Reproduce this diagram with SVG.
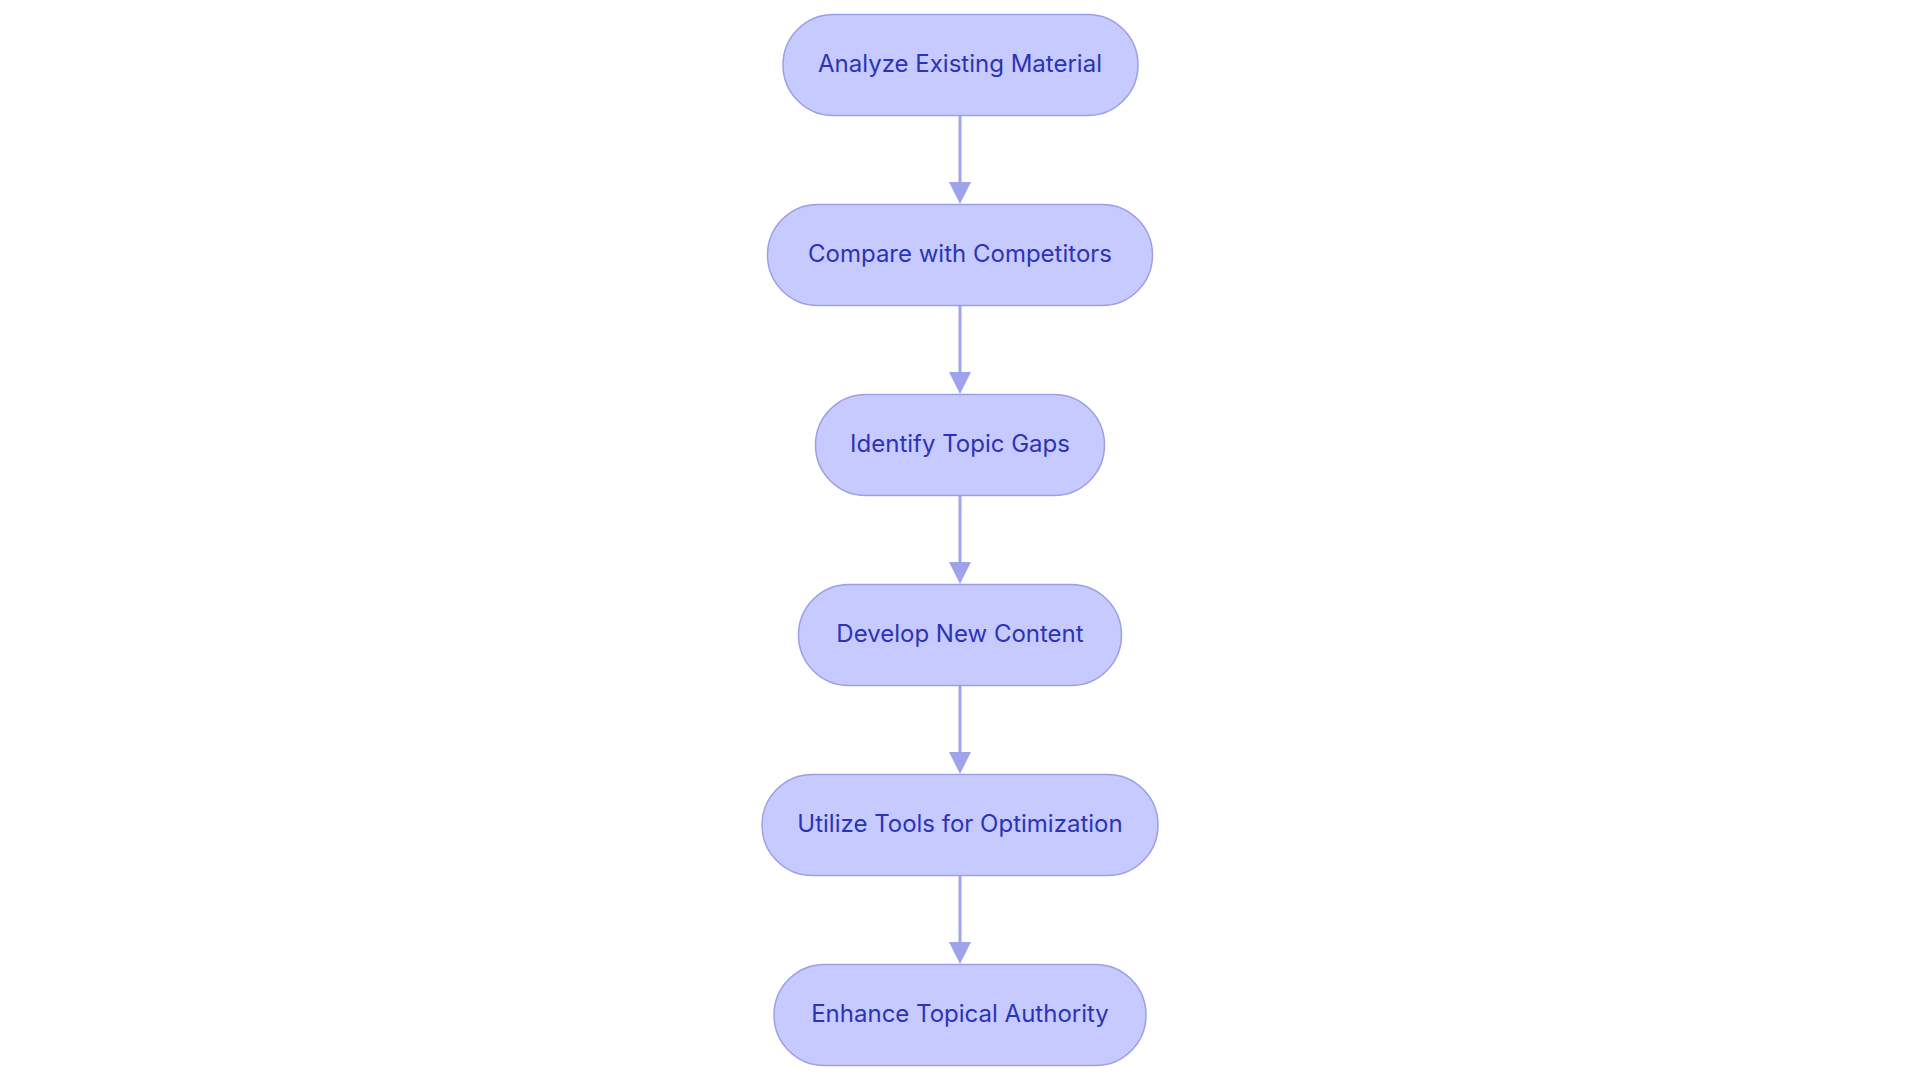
<svg xmlns="http://www.w3.org/2000/svg" width="1920" height="1083" viewBox="0 0 1920 1083">
<style>
.node rect{fill:#c7cafe;stroke:#9a9fe8;stroke-width:1.5}
.node text{font-family:Inter,"Noto Sans",sans-serif;font-size:24px;font-weight:400;fill:#2b33b8;text-anchor:middle;dominant-baseline:central}
.edge{stroke:#9ea3eb;stroke-width:3;fill:none}
.head{fill:#9ea3eb}
</style>
<rect width="1920" height="1083" fill="#ffffff"/>
<g id="connectors">
<line class="edge" x1="960" y1="115" x2="960" y2="186"/><polygon class="head" points="949,182 971,182 960,204"/>
<line class="edge" x1="960" y1="305" x2="960" y2="376"/><polygon class="head" points="949,372 971,372 960,394"/>
<line class="edge" x1="960" y1="495" x2="960" y2="566"/><polygon class="head" points="949,562 971,562 960,584"/>
<line class="edge" x1="960" y1="685" x2="960" y2="756"/><polygon class="head" points="949,752 971,752 960,774"/>
<line class="edge" x1="960" y1="875" x2="960" y2="946"/><polygon class="head" points="949,942 971,942 960,964"/>
</g>
<g id="n1" class="node"><rect x="783" y="14.5" width="355" height="101" rx="50.5"/><text x="960" y="63">Analyze Existing Material</text></g>
<g id="n2" class="node"><rect x="767.5" y="204.5" width="385" height="101" rx="50.5"/><text x="960" y="253">Compare with Competitors</text></g>
<g id="n3" class="node"><rect x="815.5" y="394.5" width="289" height="101" rx="50.5"/><text x="960" y="443">Identify Topic Gaps</text></g>
<g id="n4" class="node"><rect x="798.5" y="584.5" width="323" height="101" rx="50.5"/><text x="960" y="633">Develop New Content</text></g>
<g id="n5" class="node"><rect x="762" y="774.5" width="396" height="101" rx="50.5"/><text x="960" y="823">Utilize Tools for Optimization</text></g>
<g id="n6" class="node"><rect x="774" y="964.5" width="372" height="101" rx="50.5"/><text x="960" y="1013">Enhance Topical Authority</text></g>
</svg>
